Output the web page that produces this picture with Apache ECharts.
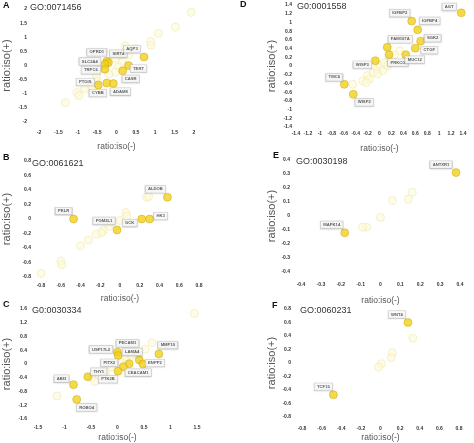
<!DOCTYPE html>
<html>
<head>
<meta charset="utf-8">
<script src="https://cdn.jsdelivr.net/npm/echarts@6/dist/echarts.min.js"></script>
<style>
html,body{margin:0;padding:0;background:#fff;}
#main{width:474px;height:443px;}
</style>
</head>
<body>
<div id="main"></div>
<script>
var myChart = echarts.init(document.getElementById('main'));

// ---- panel A : GO:0071456
var aGenes = ['OPRD1','SIRT4','SLC2A4','TRPC6','AQP3','TERT','CASR','PTGIS','CYBB','ADAM8'];
var aHit = [[-0.25,0.15],[-0.21,0.1],[-0.3,0.04],[-0.3,-0.13],[0.71,0.3],[0.31,0],[0.16,-0.19],[-0.47,-0.69],[-0.25,-0.62],[-0.08,-0.64]];
var aBack = [[1.93,1.88],[1.52,1.36],[1.08,1.14],[0.88,0.85],[0.89,0.72],[0.22,0.7],[0.48,0.61],[0.31,0.37],[0.06,0.37],[0.14,0.13],
  [-0.02,0.25],[0.05,-0.05],[-0.03,-0.23],[-0.2,-0.3],[-0.52,-0.4],[-0.5,-0.55],[-0.65,-0.76],[-0.82,-0.82],[-1.02,-0.96],[-0.97,-1.06],[-1.32,-1.32]];

// ---- panel B : GO:0061621
var bGenes = ['ALDOB','PKLR','PGM2L1','GCK','HK3'];
var bHit = [[0.48,0.3],[-0.47,0],[-0.03,-0.15],[0.22,0],[0.3,0]];
var bBack = [[0.27,0.3],[0.29,0.31],[0.06,0.09],[0.07,0.04],[0,-0.02],[-0.11,-0.1],[-0.17,-0.16],[-0.19,-0.19],[-0.24,-0.21],
  [-0.32,-0.29],[-0.4,-0.37],[-0.6,-0.58],[-0.59,-0.63],[-0.8,-0.75]];

// ---- panel C : G0:0030334
var cGenes = ['PECAM1','USP17L2','LAMA4','MMP10','ENPP2','CEACAM1','PITX2','THY1','PTK2B','ABI3','ROBO4'];
var cHit = [[0,0.34],[0.01,0.25],[0.41,0.12],[0.78,0.29],[0.48,0],[0.22,0.01],[0.11,-0.08],[-0.56,-0.37],[0.01,-0.21],[-0.83,-0.6],[-0.77,-1.03]];
var cBack = [[1.45,1.47],[0.65,0.62],[0.52,0.43],[0.37,0.29],[0.25,0.25],[0.15,0.15],[0.06,0.06],[-0.12,-0.08],[-0.22,-0.23],
  [-0.48,-0.41],[-0.43,-0.51],[-1.14,-0.93]];

// ---- panel D : G0:0001558
var dGenes = ['AGT','IGFBP2','IGFBP4','SGK2','FAM107A','CTGF','PRKCG','MUC12','WISP3','TMC6','WISP2'];
var dHit = [[1.37,1.22],[0.54,1.03],[0.64,0.83],[0.69,0.57],[0.13,0.43],[0.6,0.41],[0.16,0.26],[0.44,0.26],[-0.07,0.12],[-0.59,-0.42],[-0.44,-0.65]];
var dBack = [[-0.45,-0.42],[-0.28,-0.34],[-0.2,-0.22],[-0.11,-0.15],[-0.04,-0.07],[0.01,0.01],[0.08,0.08],[0.17,0.16],[0.25,0.26],
  [0.34,0.35],[-0.17,-0.3],[-0.03,-0.18],[0.06,-0.11],[0.14,0.01],[-0.22,-0.38]];

// ---- panel E : GO:0030198
var eGenes = ['ANTXR1','MAPK14'];
var eHit = [[0.38,0.31],[-0.18,-0.12]];
var eBack = [[0.16,0.17],[0.14,0.12],[0.06,0.11],[0,-0.01],[-0.07,-0.08],[-0.09,-0.08]];

// ---- panel F : GO:0060231
var fGenes = ['WNT4','CITED1','TCF15'];
var fHit = [[0.28,0.6],[0.86,0.06],[-0.48,-0.47]];
var fBack = [[0.33,0.37],[0.12,0.15],[0.11,0.08],[0.01,-0.01],[-0.02,-0.06]];

// label box offsets (px, relative to the point)
var labelOffset = {
  OPRD1:[-10,-9], SIRT4:[10,-9], SLC2A4:[-15,-3], TRPC6:[-14,1], AQP3:[-12,-8], TERT:[10,3], CASR:[8,8], PTGIS:[-13,-3], CYBB:[-9,10], ADAM8:[7,8],
  ALDOB:[-12,-8], PKLR:[-10,-8], PGM2L1:[-13,-9], GCK:[-12,4], HK3:[11,-3],
  PECAM1:[10,-9], USP17L2:[-17,-6], LAMA4:[-7,-8], MMP10:[9,-9], ENPP2:[12,-1], CEACAM1:[9,9], PITX2:[-14,-4], THY1:[11,-5], PTK2B:[-10,8], ABI3:[-12,-6], ROBO4:[10,8],
  AGT:[-12,-6], IGFBP2:[-12,-8], IGFBP4:[12,-9], SGK2:[12,-3], FAM107A:[13,-8], CTGF:[14,2], PRKCG:[9,8], MUC12:[9,5], WISP3:[-13,4], TMC6:[-10,-7], WISP2:[11,8],
  ANTXR1:[-15,-8], MAPK14:[-13,-8],
  WNT4:[-11,-8], CITED1:[-11,-8], TCF15:[-10,-8]
};

var panels = [
  {letter:'A', go:'GO:0071456', genes:aGenes, hit:aHit, back:aBack, x:[-2,2,0.5], y:[-2,2,0.5],
   grid:{left:34, top:9, width:160, height:113}, xm:8, ym:12, xg:20, yg:27, lp:[3,1], gp:[30,3]},
  {letter:'B', go:'GO:0061621', genes:bGenes, hit:bHit, back:bBack, x:[-0.8,0.8,0.2], y:[-0.8,0.8,0.2],
   grid:{left:37, top:161, width:162, height:116}, xm:6, ym:10, xg:17, yg:29, lp:[3,153], gp:[32,159]},
  {letter:'C', go:'G0:0030334', genes:cGenes, hit:cHit, back:cBack, x:[-1.5,1.5,0.5], y:[-1.6,1.6,0.4],
   grid:{left:36, top:309, width:161, height:113}, xm:6, ym:11, xg:14, yg:26, lp:[3,300], gp:[32,306]},
  {letter:'D', go:'G0:0001558', genes:dGenes, hit:dHit, back:dBack, x:[-1.4,1.4,0.2], y:[-1.4,1.4,0.2],
   grid:{left:296, top:5, width:167, height:122}, xm:4, ym:4, xg:17, yg:19, lp:[240,0], gp:[297,2]},
  {letter:'E', go:'GO:0030198', genes:eGenes, hit:eHit, back:eBack, x:[-0.4,0.4,0.1], y:[-0.4,0.4,0.1],
   grid:{left:301, top:160, width:159, height:112}, xm:10, ym:11, xg:24, yg:24, lp:[273,151], gp:[296,157]},
  {letter:'F', go:'GO:0060231', genes:fGenes, hit:fHit, back:fBack, x:[-0.8,0.8,0.2], y:[-0.8,0.8,0.2],
   grid:{left:302, top:309, width:157, height:111}, xm:9, ym:11, xg:16, yg:25, lp:[272,301], gp:[300,306]}
];

var grids = [], xAxes = [], yAxes = [], series = [], titles = [];
var tickStyle = {fontSize:5, fontWeight:'bold', color:'#333', fontFamily:'Liberation Sans'};

panels.forEach(function(p, i){
  grids.push(p.grid);
  xAxes.push({
    gridIndex:i, type:'value', min:p.x[0], max:p.x[1], interval:p.x[2],
    axisLine:{show:false}, axisTick:{show:false}, splitLine:{show:false},
    axisLabel:Object.assign({margin:p.xm}, tickStyle),
    name:'ratio:iso(-)', nameLocation:'middle', nameGap:p.xg,
    nameTextStyle:{fontSize:8.5, color:'#555', fontFamily:'Liberation Sans'}
  });
  yAxes.push({
    gridIndex:i, type:'value', min:p.y[0], max:p.y[1], interval:p.y[2],
    axisLine:{show:false}, axisTick:{show:false}, splitLine:{show:false},
    axisLabel:Object.assign({margin:p.ym}, tickStyle),
    name:'ratio:iso(+)', nameLocation:'middle', nameGap:p.yg, nameRotate:90,
    nameTextStyle:{fontSize:11, color:'#555', fontFamily:'Liberation Sans'}
  });
  series.push({
    type:'scatter', xAxisIndex:i, yAxisIndex:i, symbolSize:8, data:p.back,
    itemStyle:{color:'rgba(253,250,215,0.75)', borderColor:'#efe9b4', borderWidth:0.8},
    silent:true, z:2
  });
  series.push({
    type:'scatter', xAxisIndex:i, yAxisIndex:i, symbolSize:8,
    data:p.hit.map(function(v, k){
      var g = p.genes[k];
      return {name:g, value:v, label:{offset:labelOffset[g]}};
    }),
    itemStyle:{color:'#f1d01c', borderColor:'#c8a70a', borderWidth:0.6},
    label:{
      show:true, position:'inside', formatter:'{b}',
      fontSize:4.2, fontWeight:'bold', color:'#333', fontFamily:'Liberation Sans',
      backgroundColor:'#fff', borderColor:'#c4c4c4', borderWidth:0.6, padding:[1.5,2.5],
      shadowColor:'rgba(0,0,0,0.25)', shadowBlur:1.5, shadowOffsetY:0.5
    },
    z:5
  });
  titles.push({text:p.letter, left:p.lp[0], top:p.lp[1], padding:0,
    textStyle:{fontSize:9, fontWeight:'bold', color:'#111', fontFamily:'Liberation Sans'}});
  titles.push({text:p.go, left:p.gp[0], top:p.gp[1], padding:0,
    textStyle:{fontSize:9, fontWeight:'normal', color:'#333', fontFamily:'Liberation Sans'}});
});

myChart.setOption({
  animation:false,
  title:titles,
  grid:grids,
  xAxis:xAxes,
  yAxis:yAxes,
  series:series
});
</script>
</body>
</html>
